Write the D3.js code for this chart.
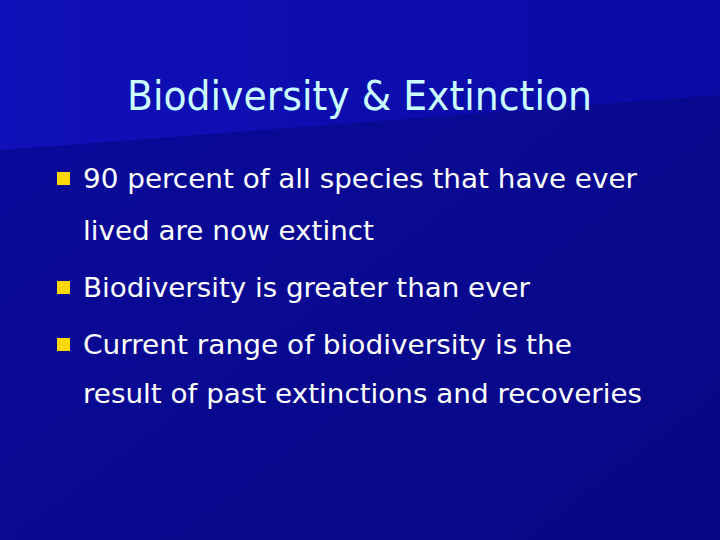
<!DOCTYPE html>
<html><head><meta charset="utf-8">
<script src="https://cdn.jsdelivr.net/npm/d3@7"></script>
<style>body{margin:0;background:#0a0a96}</style>
</head><body><div id="slide"></div>
<script>
// slide text
var title = "Biodiversity & Extinction";
var lines = ["90 percent of all species that have ever", "lived are now extinct",
             "Biodiversity is greater than ever", "Current range of biodiversity is the",
             "result of past extinctions and recoveries"];
var hasBullet = [true, false, true, true, false];
var lineWidths = [554, 291, 447, 489, 559];
var baselines = [188, 240, 297, 354, 403];

var width = 720, height = 540;
var svg = d3.select("#slide").append("svg")
            .attr("width", width).attr("height", height);

var defs = svg.append("defs");
var g = defs.append("linearGradient").attr("id", "bg")
            .attr("x1", 0).attr("y1", 0).attr("x2", 1).attr("y2", 1);
g.append("stop").attr("offset", 0).attr("stop-color", "#0a0a9e");
g.append("stop").attr("offset", 1).attr("stop-color", "#080884");
var g2 = defs.append("linearGradient").attr("id", "band")
             .attr("x1", 0).attr("y1", 0).attr("x2", 1).attr("y2", 0);
g2.append("stop").attr("offset", 0).attr("stop-color", "#1010b8");
g2.append("stop").attr("offset", 1).attr("stop-color", "#0a0aa4");

svg.append("rect").attr("width", width).attr("height", height).attr("fill", "url(#bg)");
svg.append("path").attr("d", "M0,0H720V95L0,150Z").attr("fill", "url(#band)");

svg.append("text").attr("x", 127).attr("y", 110)
   .attr("textLength", 465).attr("lengthAdjust", "spacingAndGlyphs")
   .attr("font-family", "DejaVu Sans").attr("font-size", 41)
   .attr("fill", "#ccffff").text(title);

var y = d3.scaleOrdinal().domain(d3.range(lines.length)).range(baselines);

svg.selectAll("rect.bullet").data(d3.range(lines.length).filter(function(i) {return hasBullet[i];}))
   .enter().append("rect").attr("class", "bullet")
   .attr("x", 57).attr("y", function(i) {return y(i) - 16;})
   .attr("width", 13).attr("height", 13).attr("fill", "#ffd700");

svg.selectAll("text.line").data(lines).enter().append("text").attr("class", "line")
   .attr("x", 83).attr("y", function(d, i) {return y(i);})
   .attr("textLength", function(d, i) {return lineWidths[i];})
   .attr("lengthAdjust", "spacingAndGlyphs")
   .attr("font-family", "DejaVu Sans").attr("font-size", 27)
   .attr("fill", "#ffffff").text(function(d) {return d;});
</script></body></html>
